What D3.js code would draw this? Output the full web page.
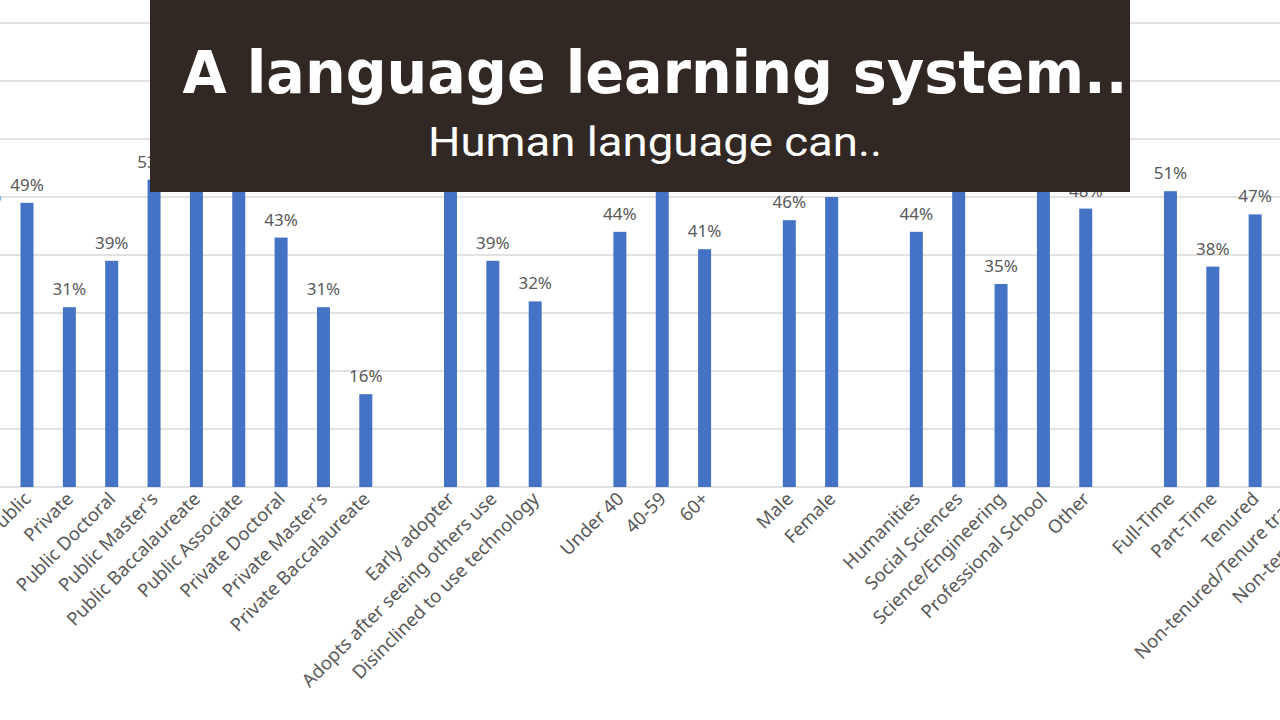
<!DOCTYPE html>
<html lang="en">
<head>
<meta charset="utf-8">
<title>Chart</title>
<script src="https://cdn.jsdelivr.net/npm/d3@7"></script>
<style>
  body { margin: 0; background: #fff; }
  svg { display: block; }
</style>
</head>
<body>
<script>
// categories in slot order; "" marks the gap between groups
var categories = ["All Faculty", "Public", "Private", "Public Doctoral", "Public Master's",
  "Public Baccalaureate", "Public Associate", "Private Doctoral", "Private Master's",
  "Private Baccalaureate", "", "Early adopter", "Adopts after seeing others use",
  "Disinclined to use technology", "", "Under 40", "40-59", "60+", "", "Male", "Female", "",
  "Humanities", "Social Sciences", "Science/Engineering", "Professional School", "Other", "",
  "Full-Time", "Part-Time", "Tenured", "Non-tenured/Tenure track", "Non-tenure track"];
var values = [47, 49, 31, 39, 53, 55, 56, 43, 31, 16, null, 60, 39, 32, null, 44, 52, 41, null,
  46, 50, null, 44, 54, 35, 55, 48, null, 51, 38, 47, 50, 45];
var gridTicks = [0, 10, 20, 30, 40, 50, 60, 70, 80, 90];

var w = 1280, h = 720;
var svg = d3.select("body").append("svg").attr("width", w).attr("height", h);

var x = d3.scaleLinear().domain([1, 2]).range([27, 69.35]);
var y = d3.scaleLinear().domain([0, 10]).range([487, 429]);

// gridlines
svg.selectAll("line.grid").data(gridTicks).enter().append("line")
  .attr("x1", 0).attr("x2", w)
  .attr("y1", function(d) { return y(d); }).attr("y2", function(d) { return y(d); })
  .attr("stroke", "#d9d9d9").attr("stroke-width", 1.3);

var data = categories.map(function(c, i) { return { c: c, v: values[i], i: i }; })
  .filter(function(d) { return d.v !== null; });

svg.selectAll("rect.bar").data(data).enter().append("rect")
  .attr("x", function(d) { return x(d.i) - 6.5; })
  .attr("width", 13)
  .attr("y", function(d) { return y(d.v); })
  .attr("height", function(d) { return y(0) - y(d.v); })
  .attr("fill", "#4472c4");

svg.selectAll("text.val").data(data).enter().append("text")
  .attr("x", function(d) { return x(d.i); })
  .attr("y", function(d) { return y(d.v) - 12; })
  .attr("text-anchor", "middle")
  .attr("font-family", "Noto Sans, sans-serif").attr("font-size", "17px")
  .attr("fill", "#595959")
  .text(function(d) { return d.v + "%"; });

svg.selectAll("text.cat").data(data).enter().append("text")
  .attr("transform", function(d) { return "translate(" + (x(d.i) + 5) + ",500) rotate(-45)"; })
  .attr("text-anchor", "end")
  .attr("font-family", "Noto Sans, sans-serif").attr("font-size", "18.5px")
  .attr("fill", "#595959")
  .text(function(d) { return d.c; });

// title overlay
svg.append("rect").attr("x", 150).attr("y", 0).attr("width", 980).attr("height", 192)
  .attr("fill", "#312824");
svg.append("text").attr("x", 655).attr("y", 93).attr("text-anchor", "middle")
  .attr("font-family", "DejaVu Sans, sans-serif").attr("font-weight", "bold")
  .attr("font-size", "58px").attr("fill", "#fff")
  .attr("textLength", 945).attr("lengthAdjust", "spacingAndGlyphs")
  .text("A language learning system..");
svg.append("text").attr("x", 655).attr("y", 156).attr("text-anchor", "middle")
  .attr("font-family", "Roboto, sans-serif").attr("font-size", "40px").attr("fill", "#fff")
  .attr("textLength", 454).attr("lengthAdjust", "spacingAndGlyphs")
  .text("Human language can..");
</script>
</body>
</html>
